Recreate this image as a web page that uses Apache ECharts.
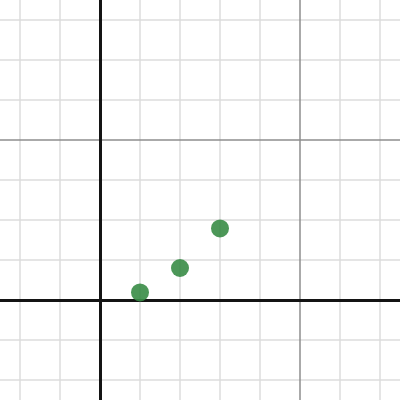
<!DOCTYPE html>
<html>
<head>
<meta charset="utf-8">
<script src="https://cdn.jsdelivr.net/npm/echarts@6/dist/echarts.min.js"></script>
<style>html,body{margin:0;padding:0;background:#fff}#main{width:400px;height:400px}</style>
</head>
<body>
<div id="main"></div>
<script>
// points
var xs = [1, 2, 3];
var ys = [0.19, 0.8, 1.79];

// grid lines
var minorX = [-2, -1, 1, 2, 3, 4, 6, 7];
var majorX = [5];
var minorY = [-2, -1, 1, 2, 3, 5, 6, 7];
var majorY = [4];

var points = [];
for (let i = 0; i < xs.length; ++i) {
    points.push([xs[i], ys[i]]);
}

function lines(vals, key, color, width) {
    return vals.map(function (v) {
        var d = {};
        d[key] = v;
        d.lineStyle = { color: color, width: width, type: 'solid' };
        return d;
    });
}

var gridLines = [].concat(
    lines(minorX, 'xAxis', '#dcdcdc', 1.5),
    lines(minorY, 'yAxis', '#dcdcdc', 1.5),
    lines(majorX, 'xAxis', '#8e8e8e', 1.5),
    lines(majorY, 'yAxis', '#8e8e8e', 1.5),
    lines([0], 'xAxis', '#141414', 3),
    lines([0], 'yAxis', '#141414', 3)
);

var myChart = echarts.init(document.getElementById('main'));
var option = {
    animation: false,
    grid: { left: 0, right: 0, top: 0, bottom: 0 },
    xAxis: {
        type: 'value', min: -2.5, max: 7.5,
        axisLine: { show: false }, axisTick: { show: false },
        axisLabel: { show: false }, splitLine: { show: false }
    },
    yAxis: {
        type: 'value', min: -2.5, max: 7.5,
        axisLine: { show: false }, axisTick: { show: false },
        axisLabel: { show: false }, splitLine: { show: false }
    },
    series: [
        {
            type: 'scatter',
            data: points,
            symbolSize: 18,
            itemStyle: { color: '#388c46', opacity: 0.9 },
            z: 5,
            markLine: {
                silent: true,
                symbol: 'none',
                label: { show: false },
                data: gridLines,
                z: 1
            }
        }
    ]
};
myChart.setOption(option);
</script>
</body>
</html>
